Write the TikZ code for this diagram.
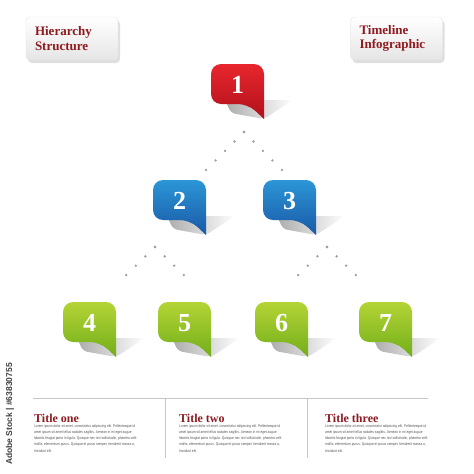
\documentclass[tikz,border=0pt]{standalone}
\usepackage{fontspec}
\setmainfont{Liberation Serif}
\newfontfamily\sansf{Liberation Sans}
\newfontfamily\bodyf[FakeStretch=0.82]{Liberation Sans}
\usetikzlibrary{shadows}
\definecolor{darkred}{HTML}{8E1B20}
\definecolor{redtop}{HTML}{E8262E}
\definecolor{redbot}{HTML}{B0111B}
\definecolor{bluetop}{HTML}{2B96D6}
\definecolor{bluebot}{HTML}{1A58A6}
\definecolor{greentop}{HTML}{B4D436}
\definecolor{greenbot}{HTML}{72AE1A}
\definecolor{bodygray}{HTML}{555555}
\tikzset{
  numtxt/.style={text=white, font=\fontsize{26}{26}\selectfont\bfseries, inner sep=0pt},
  dotline/.style={line width=2.6pt, line cap=round, dash pattern=on 0pt off 13.4pt, draw=gray!75},
  titlebox/.style={rounded corners=4pt, top color=white, bottom color=gray!20, draw=gray!20,
     minimum width=92pt, minimum height=43pt, inner sep=0pt, text width=74pt, align=left,
     font=\fontsize{13}{14.5}\selectfont\bfseries, text=darkred,
     drop shadow={shadow xshift=2pt, shadow yshift=-3pt, opacity=0.25}},
  coltitle/.style={anchor=base west, inner sep=0pt, text=darkred, font=\fontsize{12}{12}\selectfont\bfseries},
  colbody/.style={anchor=north west, inner sep=0pt, align=left, text=bodygray, font=\bodyf\fontsize{3.9}{6.3}\selectfont},
  divider/.style={draw=gray!45, line width=0.8pt}
}
\newcommand\bubble[5]{%
\begin{scope}[shift={#2}]
 \shade[left color=gray!65, right color=white, rounded corners=4] (14,36) -- (82,36) -- (53,55) -- (20,49) -- cycle;
 \shade[top color=#3, bottom color=#4, rounded corners=10] (53,30) -- (53,0) -- (0,0) -- (0,40) -- (37,40) [sharp corners] -- (53,55) -- cycle;
 \node[numtxt] (#1) at (26.5,21) {#5};
\end{scope}}
\begin{document}
\begin{tikzpicture}[x=1pt,y=-1pt]
\useasboundingbox[fill=white] (0,0) rectangle (474,474);
% title boxes
\node[titlebox] (hs) at (72,38.5) {Hierarchy\\Structure};
\node[titlebox] (ti) at (396.5,38.5) {Timeline\\Infographic};
% bubbles
\bubble{n1}{(211,64)}{redtop}{redbot}{1}
\bubble{n2}{(153,180)}{bluetop}{bluebot}{2}
\bubble{n3}{(263,180)}{bluetop}{bluebot}{3}
\bubble{n4}{(63,302)}{greentop}{greenbot}{4}
\bubble{n5}{(158,302)}{greentop}{greenbot}{5}
\bubble{n6}{(255,302)}{greentop}{greenbot}{6}
\bubble{n7}{(359,302)}{greentop}{greenbot}{7}
% dotted connectors
\coordinate (a1) at (244,132);
\coordinate (a1l) at (206,170);
\coordinate (a1r) at (282,170);
\coordinate (a2) at (155,247);
\coordinate (a2l) at (117,284);
\coordinate (a2r) at (193,284);
\coordinate (a3) at (327,247);
\coordinate (a3l) at (289,284);
\coordinate (a3r) at (365,284);
\draw[dotline] (a1) -- (a1l);
\draw[dotline] (a1) -- (a1r);
\draw[dotline] (a2) -- (a2l);
\draw[dotline] (a2) -- (a2r);
\draw[dotline] (a3) -- (a3l);
\draw[dotline] (a3) -- (a3r);
% bottom columns
\coordinate (hl) at (33,398);
\coordinate (hr) at (428,398);
\draw[divider] (hl) -- (hr);
\coordinate (v1t) at (165,398);
\coordinate (v1b) at (165,458);
\coordinate (v2t) at (307,398);
\coordinate (v2b) at (307,458);
\draw[divider] (v1t) -- (v1b);
\draw[divider] (v2t) -- (v2b);
\node[coltitle] (t1) at (34,422) {Title one};
\node[coltitle] (t2) at (179,422) {Title two};
\node[coltitle] (t3) at (325,422) {Title three};
\newcommand\lorem{Lorem ipsum dolor sit amet, consectetur adipiscing elit. Pellentesque id\\amet ipsum sit amet tellus sodales sagittis. Aenean in mi eget augue\\lobortis feugiat porta in ligula. Quisque nec nisl sollicitudin, pharetra velit\\mollis, elementum purus. Quisque et purus semper, hendrerit massa a,\\tincidunt elit.}
\node[colbody] (b1) at (34,424) {\lorem};
\node[colbody] (b2) at (179,424) {\lorem};
\node[colbody] (b3) at (325,424) {\lorem};
% watermark
\node[rotate=90, inner sep=0pt, text=black!75, font=\sansf\fontsize{8.5}{9}\selectfont\bfseries] (wm) at (10,414) {Adobe Stock | \#63830755};
\end{tikzpicture}
\end{document}
